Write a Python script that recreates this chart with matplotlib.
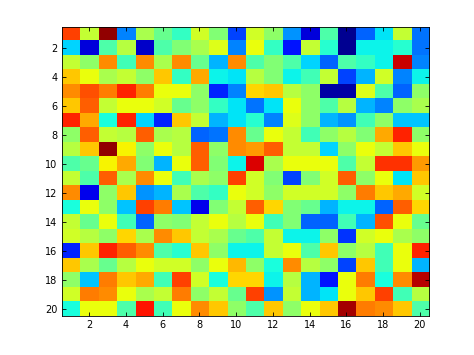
import numpy as np
import matplotlib
matplotlib.use("Agg")
import matplotlib.pyplot as plt

row01 = [0.83, 0.58, 0.97, 0.25, 0.55, 0.47, 0.42, 0.60, 0.50, 0.20, 0.60, 0.52, 0.28, 0.08, 0.45, 0.03, 0.22, 0.35, 0.58, 0.24]
row02 = [0.33, 0.08, 0.45, 0.57, 0.07, 0.45, 0.50, 0.55, 0.62, 0.25, 0.64, 0.42, 0.15, 0.58, 0.40, 0.03, 0.36, 0.36, 0.40, 0.24]
row03 = [0.58, 0.53, 0.76, 0.43, 0.76, 0.55, 0.76, 0.47, 0.30, 0.76, 0.44, 0.50, 0.45, 0.33, 0.22, 0.45, 0.42, 0.37, 0.93, 0.25]
row04 = [0.70, 0.64, 0.55, 0.58, 0.53, 0.70, 0.42, 0.72, 0.37, 0.35, 0.57, 0.50, 0.36, 0.43, 0.58, 0.20, 0.30, 0.60, 0.25, 0.37]
row05 = [0.75, 0.82, 0.77, 0.86, 0.78, 0.64, 0.64, 0.52, 0.17, 0.26, 0.68, 0.70, 0.57, 0.52, 0.04, 0.04, 0.62, 0.45, 0.22, 0.52]
row06 = [0.70, 0.81, 0.58, 0.64, 0.63, 0.60, 0.47, 0.53, 0.42, 0.35, 0.24, 0.35, 0.63, 0.53, 0.45, 0.57, 0.30, 0.25, 0.52, 0.55]
row07 = [0.87, 0.72, 0.38, 0.87, 0.33, 0.17, 0.70, 0.58, 0.30, 0.35, 0.40, 0.26, 0.62, 0.53, 0.30, 0.27, 0.43, 0.52, 0.32, 0.32]
row08 = [0.53, 0.80, 0.58, 0.57, 0.80, 0.55, 0.57, 0.23, 0.24, 0.75, 0.47, 0.64, 0.58, 0.43, 0.52, 0.57, 0.50, 0.72, 0.86, 0.53]
row09 = [0.57, 0.70, 0.97, 0.65, 0.53, 0.63, 0.57, 0.80, 0.52, 0.75, 0.74, 0.80, 0.58, 0.58, 0.33, 0.52, 0.64, 0.58, 0.70, 0.64]
row10 = [0.45, 0.47, 0.65, 0.73, 0.50, 0.30, 0.64, 0.80, 0.50, 0.37, 0.92, 0.55, 0.64, 0.64, 0.64, 0.45, 0.58, 0.85, 0.85, 0.74]
row11 = [0.58, 0.45, 0.80, 0.55, 0.75, 0.64, 0.43, 0.55, 0.52, 0.84, 0.60, 0.50, 0.20, 0.50, 0.60, 0.80, 0.53, 0.64, 0.35, 0.70]
row12 = [0.75, 0.10, 0.52, 0.69, 0.28, 0.30, 0.55, 0.45, 0.42, 0.64, 0.60, 0.52, 0.60, 0.60, 0.60, 0.53, 0.77, 0.70, 0.72, 0.60]
row13 = [0.38, 0.64, 0.52, 0.32, 0.83, 0.77, 0.32, 0.10, 0.50, 0.58, 0.80, 0.68, 0.50, 0.47, 0.30, 0.37, 0.36, 0.23, 0.80, 0.68]
row14 = [0.58, 0.47, 0.64, 0.43, 0.23, 0.52, 0.50, 0.58, 0.63, 0.57, 0.64, 0.43, 0.50, 0.22, 0.22, 0.43, 0.30, 0.82, 0.64, 0.47]
row15 = [0.60, 0.57, 0.52, 0.68, 0.55, 0.75, 0.70, 0.58, 0.55, 0.47, 0.45, 0.58, 0.37, 0.37, 0.52, 0.18, 0.60, 0.64, 0.55, 0.52]
row16 = [0.17, 0.70, 0.87, 0.80, 0.75, 0.45, 0.40, 0.70, 0.52, 0.36, 0.37, 0.58, 0.64, 0.45, 0.70, 0.52, 0.57, 0.43, 0.63, 0.87]
row17 = [0.70, 0.55, 0.47, 0.57, 0.63, 0.60, 0.60, 0.52, 0.64, 0.71, 0.52, 0.38, 0.76, 0.57, 0.52, 0.20, 0.70, 0.43, 0.63, 0.30]
row18 = [0.52, 0.32, 0.77, 0.70, 0.72, 0.43, 0.83, 0.60, 0.38, 0.68, 0.68, 0.37, 0.57, 0.30, 0.15, 0.64, 0.77, 0.38, 0.76, 0.95]
row19 = [0.60, 0.77, 0.75, 0.64, 0.55, 0.58, 0.77, 0.53, 0.58, 0.47, 0.83, 0.28, 0.58, 0.30, 0.35, 0.64, 0.70, 0.83, 0.43, 0.57]
row20 = [0.38, 0.64, 0.64, 0.45, 0.88, 0.43, 0.63, 0.76, 0.70, 0.52, 0.45, 0.70, 0.52, 0.64, 0.70, 0.96, 0.77, 0.75, 0.70, 0.45]

rows = [row01, row02, row03, row04, row05, row06, row07, row08, row09, row10,
        row11, row12, row13, row14, row15, row16, row17, row18, row19, row20]
tick_vals = [2, 4, 6, 8, 10, 12, 14, 16, 18, 20]

data = np.array(rows)
n_rows, n_cols = data.shape

fig = plt.figure(figsize=(4.74, 3.55), dpi=100)
ax = fig.add_axes([0.13, 0.11, 0.775, 0.815])
cmap = plt.get_cmap('jet', 64)
ax.imshow(data, cmap=cmap, vmin=0.0, vmax=1.0, aspect='auto',
          interpolation='nearest',
          extent=(0.5, n_cols + 0.5, n_rows + 0.5, 0.5))
ax.set_xticks(tick_vals)
ax.set_yticks(tick_vals)
ax.tick_params(direction='in', length=3, width=0.6, labelsize=7,
               top=True, right=True, pad=3)
for s in ax.spines.values():
    s.set_linewidth(0.6)
fig.savefig('out.png', dpi=100)
